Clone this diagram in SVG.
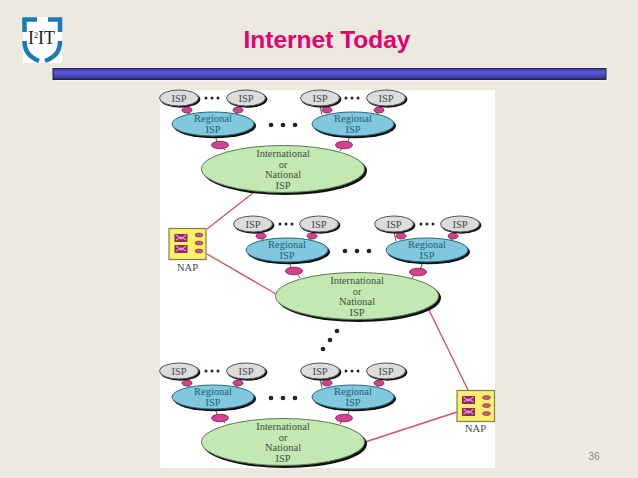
<svg xmlns="http://www.w3.org/2000/svg" width="638" height="478" viewBox="0 0 638 478">
<style>
text{font-family:"Liberation Serif","Times New Roman",serif;text-anchor:middle}
.isp{fill:#dcdcdc;stroke:#555;stroke-width:1}
.reg{fill:#7fc8de;stroke:#2a6a7c;stroke-width:1}
.intl{fill:#c4e8b2;stroke:#5a7a55;stroke-width:1}
.sh{fill:#111}
.t{font-size:10.5px;fill:#3c4a4c}
.tr{font-size:10.5px;fill:#25626f}
.ti{font-size:10.5px;fill:#3f4f3c}
.gl{stroke:#555;stroke-width:1;fill:none}
.rl{stroke:#cf5560;stroke-width:1.4;fill:none}
.r{fill:#d5408f;stroke:#6d1d4a;stroke-width:.8}
.d{fill:#222}
.nap{fill:#fbf06e;stroke:#82803f;stroke-width:1.2}
.sw{fill:#8a2a66}
.sx{stroke:#e79ac8;stroke-width:1.2;fill:none}
.po{fill:#c85a7a;stroke:#7a3040;stroke-width:.6}
</style>
<defs>
<linearGradient id="bar" x1="0" y1="0" x2="0" y2="1">
<stop offset="0" stop-color="#3a3aa8"/><stop offset=".35" stop-color="#5a58d8"/><stop offset=".7" stop-color="#4444b4"/><stop offset="1" stop-color="#2b2b70"/>
</linearGradient>
<g id="isp"><ellipse class="sh" cx="1.300" cy="1.200" rx="20" ry="8.500"/><ellipse class="isp" rx="19.500" ry="8"/></g>
<g id="reg"><ellipse class="sh" cx="1.600" cy="1.800" rx="41.500" ry="12.500"/><ellipse class="reg" rx="41" ry="12"/></g>
<g id="intl"><ellipse class="sh" cx="2" cy="2" rx="82" ry="24"/><ellipse class="intl" rx="81.500" ry="23.500"/></g>
<ellipse id="rs" class="r" rx="5" ry="3"/>
<ellipse id="rb" class="r" rx="8.500" ry="3.800"/>
<g id="swi"><rect class="sw" x="-6.500" y="-4" width="13" height="8"/><path class="sx" d="M-5-3L0 1L5-3M-5 2L0-1L5 2"/></g>
<ellipse id="port" class="po" rx="4" ry="2"/>
</defs>
<rect width="638" height="478" fill="#ece9df"/>
<g id="logo">
<rect x="23" y="17" width="39" height="46" fill="#fff"/>
<path d="M37 19.500H24.500V32M48 19.500H60V32M24.500 41C24.500 52 30 57 39 61M60 41C60 52 55 57 45 61" fill="none" stroke="#1a7ab8" stroke-width="4.500"/>
<text x="41.500" y="44" style="font-size:18px;fill:#222">I<tspan dy="-6" style="font-size:8px">2</tspan><tspan dy="6">IT</tspan></text>
</g>
<text id="title" x="327" y="48" style="font-family:'Liberation Sans',Arial,sans-serif;font-size:24.500px;font-weight:bold;fill:#e4006f">Internet Today</text>
<g id="bar-rule">
<rect x="53" y="67.500" width="554" height="13" fill="#fff" opacity=".7"/>
<rect x="53" y="68.500" width="553" height="11" fill="url(#bar)" stroke="#222247" stroke-width="1"/>
</g>
<rect id="panel" x="160" y="90" width="335" height="378" fill="#fff"/>
<g id="connectors">
<path class="rl" d="M253 193L207 229M207 254L276 294M428 308L468 390M457 412L362 443"/>
<path class="gl" d="M187 106L189 115M238 106L236 115M320 106L322 115M379 106L377 115M215 136L219 146M223 148L225 150M350 136L346 146M342 148L340 151"/>
<path class="gl" d="M261 232L263 241M312 232L310 241M394 232L396 241M453 232L451 241M289 262L293 272M298 275L300 278M423 262L419 272M414 275L412 278"/>
<path class="gl" d="M187 379L189 388M238 379L236 388M320 379L322 388M379 379L377 388M215 409L219 419M223 421L225 423M350 409L346 419M342 421L340 424"/>
</g>
<g id="isp-1"><use href="#isp" x="179" y="98"/><text class="t" x="179" y="102">ISP</text></g>
<g id="isp-2"><use href="#isp" x="246" y="98"/><text class="t" x="246" y="102">ISP</text></g>
<g id="isp-3"><use href="#isp" x="320" y="98"/><text class="t" x="320" y="102">ISP</text></g>
<g id="isp-4"><use href="#isp" x="386" y="98"/><text class="t" x="386" y="102">ISP</text></g>
<g id="isp-5"><use href="#isp" x="253" y="224"/><text class="t" x="253" y="228">ISP</text></g>
<g id="isp-6"><use href="#isp" x="319" y="224"/><text class="t" x="319" y="228">ISP</text></g>
<g id="isp-7"><use href="#isp" x="394" y="224"/><text class="t" x="394" y="228">ISP</text></g>
<g id="isp-8"><use href="#isp" x="460" y="224"/><text class="t" x="460" y="228">ISP</text></g>
<g id="isp-9"><use href="#isp" x="179" y="371"/><text class="t" x="179" y="375">ISP</text></g>
<g id="isp-10"><use href="#isp" x="246" y="371"/><text class="t" x="246" y="375">ISP</text></g>
<g id="isp-11"><use href="#isp" x="320" y="371"/><text class="t" x="320" y="375">ISP</text></g>
<g id="isp-12"><use href="#isp" x="386" y="371"/><text class="t" x="386" y="375">ISP</text></g>
<g id="regional-1"><use href="#reg" x="213" y="124"/><text class="tr" x="213" y="122">Regional</text><text class="tr" x="213" y="133">ISP</text></g>
<g id="regional-2"><use href="#reg" x="353" y="124"/><text class="tr" x="353" y="122">Regional</text><text class="tr" x="353" y="133">ISP</text></g>
<g id="regional-3"><use href="#reg" x="287" y="250"/><text class="tr" x="287" y="248">Regional</text><text class="tr" x="287" y="259">ISP</text></g>
<g id="regional-4"><use href="#reg" x="427" y="250"/><text class="tr" x="427" y="248">Regional</text><text class="tr" x="427" y="259">ISP</text></g>
<g id="regional-5"><use href="#reg" x="213" y="397"/><text class="tr" x="213" y="395">Regional</text><text class="tr" x="213" y="406">ISP</text></g>
<g id="regional-6"><use href="#reg" x="353" y="397"/><text class="tr" x="353" y="395">Regional</text><text class="tr" x="353" y="406">ISP</text></g>
<g id="intl-1"><use href="#intl" x="283" y="169"/><text class="ti" x="283" y="157">International</text><text class="ti" x="283" y="168">or</text><text class="ti" x="283" y="178">National</text><text class="ti" x="283" y="189">ISP</text></g>
<g id="intl-2"><use href="#intl" x="357" y="296"/><text class="ti" x="357" y="284">International</text><text class="ti" x="357" y="295">or</text><text class="ti" x="357" y="305">National</text><text class="ti" x="357" y="316">ISP</text></g>
<g id="intl-3"><use href="#intl" x="283" y="442"/><text class="ti" x="283" y="430">International</text><text class="ti" x="283" y="441">or</text><text class="ti" x="283" y="451">National</text><text class="ti" x="283" y="462">ISP</text></g>
<g id="routers">
<use href="#rs" x="187" y="110"/><use href="#rs" x="238" y="110"/><use href="#rs" x="327" y="110"/><use href="#rs" x="379" y="110"/>
<use href="#rb" x="220" y="145"/><use href="#rb" x="344" y="145"/>
<use href="#rs" x="261" y="236"/><use href="#rs" x="312" y="236"/><use href="#rs" x="401" y="236"/><use href="#rs" x="453" y="236"/>
<use href="#rb" x="294" y="271"/><use href="#rb" x="418" y="272"/>
<use href="#rs" x="187" y="383"/><use href="#rs" x="238" y="383"/><use href="#rs" x="327" y="383"/><use href="#rs" x="379" y="383"/>
<use href="#rb" x="220" y="418"/><use href="#rb" x="344" y="418"/>
</g>
<g id="dots" class="d">
<circle cx="206" cy="98" r="1.500"/><circle cx="212" cy="98" r="1.500"/><circle cx="218" cy="98" r="1.500"/>
<circle cx="346" cy="98" r="1.500"/><circle cx="352" cy="98" r="1.500"/><circle cx="358" cy="98" r="1.500"/>
<circle cx="280" cy="224" r="1.500"/><circle cx="286" cy="224" r="1.500"/><circle cx="292" cy="224" r="1.500"/>
<circle cx="421" cy="224" r="1.500"/><circle cx="427" cy="224" r="1.500"/><circle cx="433" cy="224" r="1.500"/>
<circle cx="206" cy="371" r="1.500"/><circle cx="212" cy="371" r="1.500"/><circle cx="218" cy="371" r="1.500"/>
<circle cx="346" cy="371" r="1.500"/><circle cx="352" cy="371" r="1.500"/><circle cx="358" cy="371" r="1.500"/>
<circle cx="271" cy="125" r="2.300"/><circle cx="283" cy="125" r="2.300"/><circle cx="295" cy="125" r="2.300"/>
<circle cx="345" cy="251" r="2.300"/><circle cx="357" cy="251" r="2.300"/><circle cx="369" cy="251" r="2.300"/>
<circle cx="271" cy="398" r="2.300"/><circle cx="283" cy="398" r="2.300"/><circle cx="295" cy="398" r="2.300"/>
<circle cx="337" cy="331" r="2.300"/><circle cx="330" cy="340" r="2.300"/><circle cx="323" cy="349" r="2.300"/>
</g>
<g id="nap-1">
<rect class="nap" x="169" y="228.500" width="37" height="31"/>
<use href="#swi" x="181" y="238"/><use href="#swi" x="181" y="249"/>
<use href="#port" x="199" y="235"/><use href="#port" x="199" y="243"/><use href="#port" x="199" y="251"/>
<text class="t" x="187.500" y="271">NAP</text>
</g>
<g id="nap-2">
<rect class="nap" x="457" y="390.500" width="37.500" height="31"/>
<use href="#swi" x="468.500" y="400"/><use href="#swi" x="468.500" y="412"/>
<use href="#port" x="486.500" y="397.500"/><use href="#port" x="486.500" y="405.500"/><use href="#port" x="486.500" y="413.500"/>
<text class="t" x="475.500" y="432">NAP</text>
</g>
<text id="page" x="594" y="460" style="font-family:'Liberation Sans',Arial,sans-serif;font-size:10px;fill:#8a8a84">36</text>
</svg>
